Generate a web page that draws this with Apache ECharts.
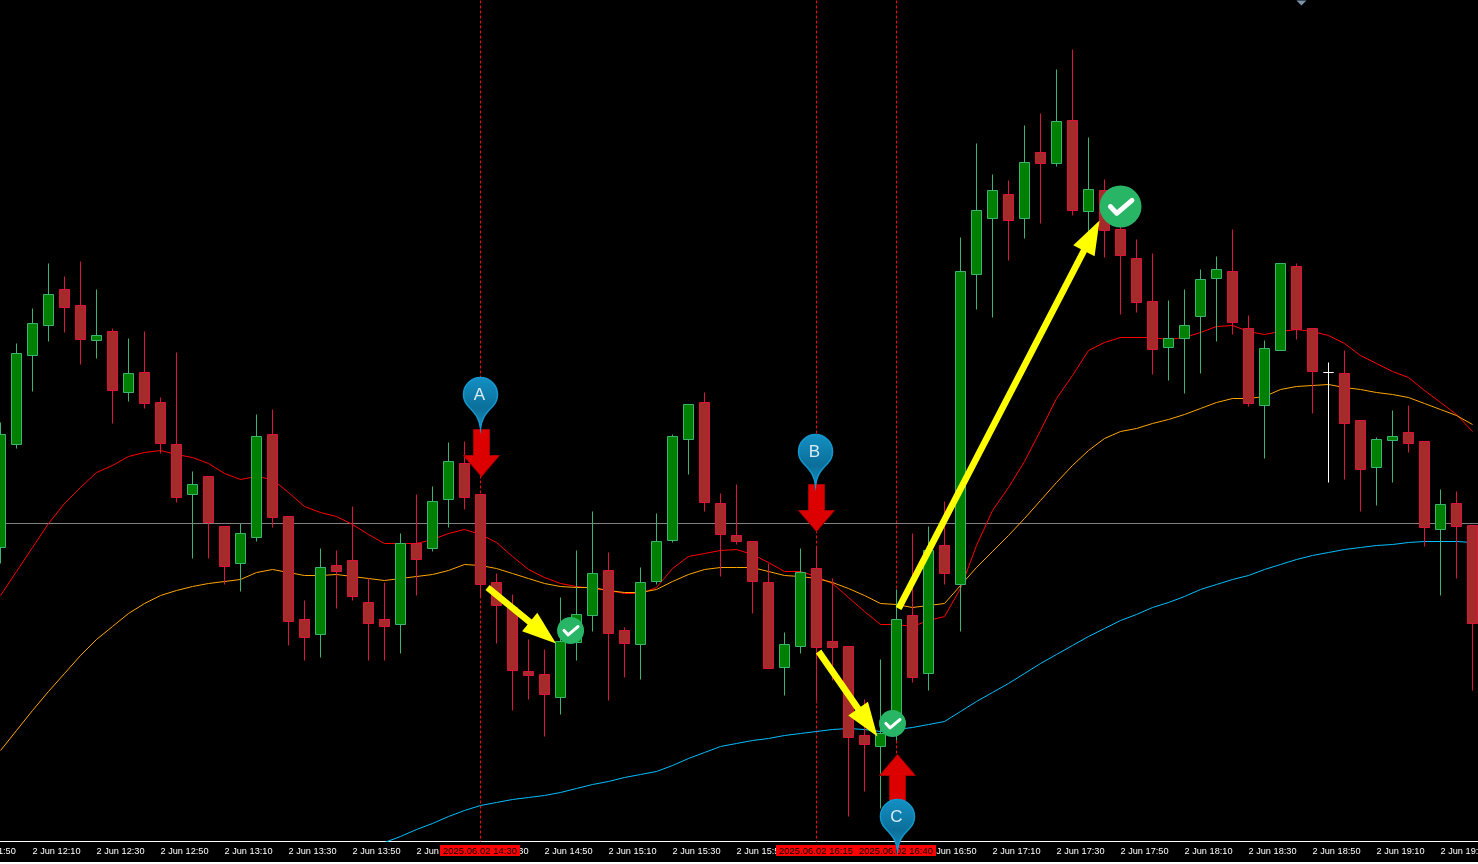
<!DOCTYPE html>
<html>
<head>
<meta charset="utf-8">
<title>5 minute chart, 2 Jun</title>
<style>
html, body { margin: 0; padding: 0; background: #fff; }
#chart { width: 1478px; height: 862px; background: #000; }
</style>
<script src="https://cdn.jsdelivr.net/npm/echarts@6/dist/echarts.min.js"></script>
</head>
<body>
<div id="chart"></div>
<script>
// The reference has no price scale, so every level is read as a row counted from the top of the plot.
// The value axis is inverted to match: a green candle closes on a smaller number than it opens.
var leadingSlots = 2; // 11:50 and 11:55 sit off the left edge, only their axis label shows

var opens = [547, 444, 355, 325, 289, 305, 340, 331, 392, 372, 402, 444, 494, 476, 526, 563, 537, 434, 516, 619, 634, 565, 560, 602, 619, 624, 543, 548, 499, 463, 494, 582, 607, 671, 674, 697, 642, 615, 570, 630, 644, 581, 540, 439, 402, 503, 535, 541, 582, 667, 646, 568, 641, 646, 735, 746, 728, 615, 673, 545, 584, 274, 218, 194, 218, 152, 163, 120, 211, 190, 229, 258, 301, 347, 338, 316, 278, 271, 328, 405, 350, 266, 328, 372, 373, 420, 467, 440, 432, 441, 529, 503, 525];
var closes = [434, 353, 323, 294, 307, 339, 335, 390, 373, 403, 443, 497, 484, 522, 566, 533, 436, 517, 621, 637, 567, 571, 596, 623, 626, 543, 559, 501, 461, 497, 584, 605, 670, 675, 694, 641, 614, 573, 633, 643, 582, 541, 436, 404, 502, 534, 541, 581, 668, 644, 572, 647, 647, 737, 744, 733, 619, 677, 550, 573, 271, 210, 190, 220, 162, 163, 121, 210, 189, 230, 255, 302, 349, 338, 325, 279, 269, 322, 403, 348, 263, 329, 371, 372, 423, 469, 439, 436, 443, 527, 504, 526, 623];
var wickTops = [422, 343, 308, 263, 276, 261, 289, 328, 338, 331, 397, 352, 471, 476, 526, 523, 414, 409, 516, 600, 548, 550, 506, 578, 582, 533, 494, 486, 442, 441, 494, 573, 594, 639, 649, 597, 550, 511, 552, 627, 567, 513, 434, 404, 392, 493, 484, 541, 563, 632, 548, 546, 578, 646, 699, 659, 589, 533, 526, 501, 237, 143, 174, 180, 125, 113, 69, 49, 137, 179, 215, 239, 253, 300, 289, 269, 256, 229, 315, 340, 263, 263, 328, 362, 350, 420, 437, 410, 405, 441, 489, 491, 525];
var wickBottoms = [563, 448, 391, 341, 332, 364, 358, 423, 401, 408, 453, 502, 558, 558, 584, 591, 541, 527, 645, 660, 657, 608, 600, 660, 660, 653, 595, 551, 527, 509, 597, 643, 710, 699, 736, 714, 660, 631, 700, 677, 679, 584, 542, 474, 511, 576, 544, 613, 668, 695, 653, 700, 680, 816, 791, 808, 740, 682, 690, 584, 631, 309, 317, 260, 238, 223, 166, 215, 232, 257, 314, 312, 374, 380, 393, 373, 341, 334, 406, 458, 350, 339, 413, 482, 479, 511, 505, 482, 452, 546, 595, 578, 690];

var fastAverage = [595, 571, 547, 523, 503, 487, 472, 465, 456, 452, 450, 454, 457, 463, 473, 479, 476, 479, 492, 506, 512, 516, 524, 534, 543, 543, 543, 539, 533, 529, 534, 542, 556, 569, 577, 583, 586, 588, 590, 593, 593, 587, 568, 556, 553, 550, 549, 554, 562, 571, 571, 576, 583, 597, 611, 624, 624, 626, 620, 616, 588, 545, 510, 487, 461, 430, 398, 375, 350, 342, 337, 337, 337, 339, 337, 332, 326, 325, 331, 334, 331, 329, 331, 335, 343, 355, 363, 371, 377, 390, 402, 414, 431];
var midAverage = [750, 730, 710, 691, 673, 655, 639, 626, 613, 603, 595, 590, 586, 583, 581, 579, 572, 569, 572, 575, 575, 574, 576, 578, 580, 578, 576, 574, 570, 564, 565, 568, 573, 578, 583, 586, 587, 587, 590, 592, 592, 589, 581, 574, 569, 567, 567, 567, 571, 575, 576, 578, 582, 588, 595, 603, 604, 607, 605, 603, 585, 567, 551, 535, 518, 500, 482, 465, 450, 438, 431, 428, 423, 419, 414, 408, 402, 398, 398, 396, 389, 386, 385, 384, 387, 389, 392, 394, 397, 403, 409, 415, 424];
// the slow average only enters the plot at 14:00
var slowAverage = [842, 836, 829, 823, 816, 810, 805, 802, 799, 797, 795, 792, 788, 784, 781, 777, 774, 771, 765, 758, 752, 746, 743, 740, 738, 735, 733, 731, 729, 728, 729, 731, 729, 727, 724, 721, 711, 701, 692, 683, 673, 663, 654, 645, 636, 628, 620, 614, 607, 602, 596, 589, 584, 579, 575, 569, 564, 559, 555, 552, 549, 547, 545, 544, 542, 541, 541, 541, 542];
var slowStart = 24;

var dojiIndex = 83; // the white cross at 18:55
var priceLine = 523;

var signalTimes = ['2025.06.02 14:30', '2025.06.02 16:15', '2025.06.02 16:40'];
var signalIndexes = [30, 51, 56];
var pinLetters = ['A', 'B', 'C'];
var pinTips = [[30, 428], [50.94, 485], [56.06, 850]];
var signalArrows = [[30.06, 476], [51, 531], [56.06, 754]]; // tip of each red arrow
var signalDirections = [1, 1, -1];
var moveArrows = [
    [30.44, 587, 34.72, 643],
    [51.13, 651, 54.81, 736],
    [56.13, 608, 68.69, 220]
];
var checkSpots = [[35.63, 630], [55.75, 723], [70, 206]];
var checkRadii = [13.5, 13.5, 21];
var scrollMarker = [[81.31, 5]];

function two(n) {
    return n < 10 ? '0' + n : '' + n;
}

var categories = [];
var total = leadingSlots + opens.length;
for (var c = 0; c < total; c++) {
    var minutes = 11 * 60 + 50 + c * 5;
    categories.push('2 Jun ' + two(Math.floor(minutes / 60)) + ':' + two(minutes % 60));
}

function pad(values, start) {
    var out = [];
    for (var i = 0; i < leadingSlots + start; i++) {
        out.push('-');
    }
    return out.concat(values);
}

var candles = pad(opens.map(function (open, i) {
    var row = [open, closes[i], wickTops[i], wickBottoms[i]];
    if (i === dojiIndex) {
        return { value: row, itemStyle: { color: '#fff', color0: '#fff', borderColor: '#fff', borderColor0: '#fff' } };
    }
    return row;
}), 0);

function averageSeries(name, values, start, color) {
    return {
        name: name,
        type: 'line',
        z: 1,
        symbol: 'none',
        connectNulls: false,
        lineStyle: { color: color, width: 1 },
        data: pad(values, start)
    };
}

var fastSeries = averageSeries('fast', fastAverage, 0, '#ff0000');
var lineDash = { color: '#ff0000', width: 1, type: [3, 2] };
fastSeries.markLine = {
    z: 1,
    symbol: 'none',
    silent: true,
    label: { show: false },
    data: [
        { xAxis: categories[leadingSlots + signalIndexes[0]], lineStyle: lineDash },
        { xAxis: categories[leadingSlots + signalIndexes[1]], lineStyle: lineDash },
        { xAxis: categories[leadingSlots + signalIndexes[2]], lineStyle: lineDash },
        { yAxis: priceLine, lineStyle: { color: '#808080', width: 1, type: 'solid' } }
    ]
};

// the overlays all use the hidden numeric x axis, so they can sit between candles
function overlay(data, z, renderItem) {
    return {
        type: 'custom',
        xAxisIndex: 1,
        yAxisIndex: 0,
        z: z,
        silent: true,
        clip: false,
        data: data,
        renderItem: renderItem
    };
}

function renderMoveArrow(params, api) {
    var from = api.coord([api.value(0), api.value(1)]);
    var to = api.coord([api.value(2), api.value(3)]);
    var dx = to[0] - from[0];
    var dy = to[1] - from[1];
    var len = Math.sqrt(dx * dx + dy * dy);
    var ux = dx / len;
    var uy = dy / len;
    var headLen = 34;
    var headHalf = 12;
    var shaftHalf = 3.3;
    var neck = [to[0] - ux * headLen, to[1] - uy * headLen];
    return {
        type: 'polygon',
        shape: {
            points: [
                [from[0] - uy * shaftHalf, from[1] + ux * shaftHalf],
                [neck[0] - uy * shaftHalf, neck[1] + ux * shaftHalf],
                [neck[0] - uy * headHalf, neck[1] + ux * headHalf],
                to,
                [neck[0] + uy * headHalf, neck[1] - ux * headHalf],
                [neck[0] + uy * shaftHalf, neck[1] - ux * shaftHalf],
                [from[0] + uy * shaftHalf, from[1] - ux * shaftHalf]
            ]
        },
        style: { fill: '#ffff00' }
    };
}

function renderSignalArrow(params, api) {
    var tip = api.coord([api.value(0), api.value(1)]);
    var dir = signalDirections[params.dataIndex];
    var x = tip[0];
    var y = tip[1];
    return {
        type: 'polygon',
        shape: {
            points: [
                [x, y],
                [x + 18, y - dir * 21],
                [x + 8, y - dir * 21],
                [x + 8, y - dir * 47],
                [x - 8, y - dir * 47],
                [x - 8, y - dir * 21],
                [x - 18, y - dir * 21]
            ]
        },
        style: { fill: '#dc0000', stroke: '#a80000', lineWidth: 1 }
    };
}

function renderPin(params, api) {
    var tip = api.coord([api.value(0), api.value(1)]);
    return {
        type: 'group',
        children: [{
            type: 'path',
            shape: {
                pathData: 'M17 51 C16 43 14 38 5 29 A17 17 0 1 1 29 29 C20 38 18 43 17 51 Z',
                x: tip[0] - 17,
                y: tip[1] - 51,
                width: 34,
                height: 51,
                layout: 'cover'
            },
            style: {
                fill: {
                    type: 'linear', x: 0, y: 0, x2: 0, y2: 1,
                    colorStops: [
                        { offset: 0, color: '#1490c4' },
                        { offset: 0.6, color: '#0b6f9a' },
                        { offset: 1, color: '#1a8fbe' }
                    ]
                },
                stroke: '#1397cf',
                lineWidth: 1.5
            }
        }, {
            type: 'text',
            style: {
                x: tip[0] - 1,
                y: tip[1] - 33,
                text: pinLetters[params.dataIndex],
                fill: '#dcebf2',
                font: '17px "Liberation Sans"',
                align: 'center',
                verticalAlign: 'middle'
            }
        }]
    };
}

function renderCheck(params, api) {
    var c = api.coord([api.value(0), api.value(1)]);
    var r = checkRadii[params.dataIndex];
    var k = r / 20.7;
    return {
        type: 'group',
        children: [{
            type: 'circle',
            shape: { cx: c[0], cy: c[1], r: r },
            style: { fill: '#28b566' }
        }, {
            type: 'polyline',
            shape: {
                points: [
                    [c[0] - 10 * k, c[1]],
                    [c[0] - 3.7 * k, c[1] + 6.7 * k],
                    [c[0] + 11.3 * k, c[1] - 6 * k]
                ]
            },
            style: { fill: 'none', stroke: '#fff', lineWidth: 4.8 * k, lineCap: 'round', lineJoin: 'round' }
        }]
    };
}

function renderTimeBox(params, api) {
    var c = api.coord([api.value(0), 845]);
    var x = Math.floor(c[0]);
    var y = Math.floor(c[1]);
    return {
        type: 'group',
        children: [{
            type: 'rect',
            shape: { x: x - 40, y: y, width: 80, height: 11 },
            style: { fill: '#ff0000' }
        }, {
            type: 'text',
            style: {
                x: x,
                y: y + 6,
                text: signalTimes[params.dataIndex],
                fill: '#000',
                font: '9.5px "Liberation Sans"',
                align: 'center',
                verticalAlign: 'middle'
            }
        }]
    };
}

function renderScrollMarker(params, api) {
    var tip = api.coord([api.value(0), api.value(1)]);
    return {
        type: 'polygon',
        shape: { points: [tip, [tip[0] + 5, tip[1] - 5], [tip[0] - 5, tip[1] - 5]] },
        style: { fill: '#7d93a8' }
    };
}

var option = {
    animation: false,
    backgroundColor: '#000',
    // half pixel offsets keep the 1px wicks and lines on whole pixel columns
    grid: { left: -39.5, top: 0.5, width: 1520, height: 841, containLabel: false, outerBoundsMode: 'none' },
    xAxis: [{
        type: 'category',
        position: 'bottom',
        data: categories,
        axisLine: { onZero: false, lineStyle: { color: '#fff', width: 1 } },
        axisTick: { alignWithLabel: true, interval: 3, length: 4, lineStyle: { color: '#fff' } },
        axisLabel: {
            interval: 3,
            align: 'left',
            color: '#fff',
            margin: 5,
            fontSize: 9.2,
            fontFamily: 'Liberation Sans',
            hideOverlap: false
        },
        splitLine: { show: false }
    }, {
        type: 'value',
        position: 'bottom',
        min: -leadingSlots - 0.5,
        max: opens.length - 0.5,
        show: false
    }],
    yAxis: {
        type: 'value',
        inverse: true,
        min: 0,
        max: 841,
        show: false,
        splitLine: { show: false }
    },
    series: [
        fastSeries,
        averageSeries('mid', midAverage, 0, '#ffa500'),
        averageSeries('slow', slowAverage, slowStart, '#00bfff'),
        {
            name: 'price',
            type: 'candlestick',
            z: 3,
            barWidth: 10,
            itemStyle: {
                color: '#a52a2a',
                borderColor: '#dc143c',
                color0: '#008000',
                borderColor0: '#3cb371',
                borderWidth: 1
            },
            data: candles
        },
        overlay(signalIndexes.map(function (i) { return [i]; }), 6, renderTimeBox),
        overlay(signalArrows, 7, renderSignalArrow),
        overlay(moveArrows, 8, renderMoveArrow),
        overlay(checkSpots, 9, renderCheck),
        overlay(pinTips, 10, renderPin),
        overlay(scrollMarker, 10, renderScrollMarker)
    ]
};

var chart = echarts.init(document.getElementById('chart'));
chart.setOption(option);
</script>
</body>
</html>
